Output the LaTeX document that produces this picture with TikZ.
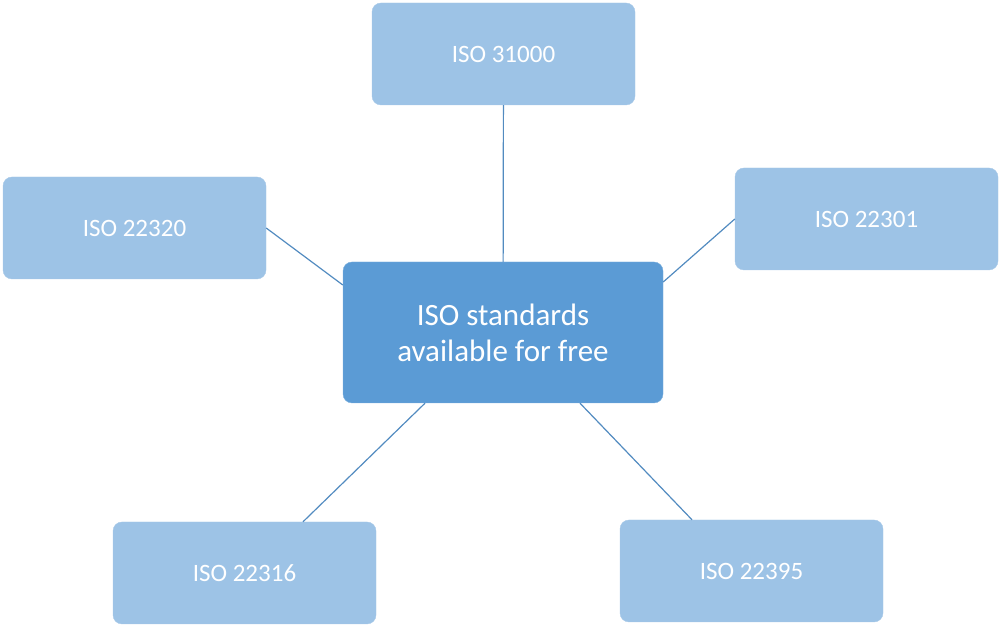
\documentclass[tikz,border=0pt]{standalone}
\usepackage{fontspec}
\setmainfont{Carlito}
\usetikzlibrary{positioning}
\definecolor{hubblue}{HTML}{5B9BD5}
\definecolor{leafblue}{HTML}{9DC3E6}
\tikzset{
  hub/.style = {rectangle, rounded corners=9pt, fill=hubblue, draw=hubblue!80!white,
    text=white, align=center, font=\fontsize{31}{36}\selectfont,
    minimum width=320pt, minimum height=141pt},
  leaf/.style = {rectangle, rounded corners=9pt, fill=leafblue, draw=leafblue!90!white,
    text=white, font=\fontsize{25}{30}\selectfont,
    minimum width=263pt, minimum height=102pt},
  link/.style = {draw=hubblue!90!black, line width=1.2pt}
}
\begin{document}
\begin{tikzpicture}[x=1pt,y=1pt]
    \useasboundingbox (0,0) rectangle (1000,628);
    \node [hub](H) at (503,295.5) {ISO standards\\available for free};
    \node [leaf](T) at (503.5,574) {ISO 31000};
    \node [leaf](L) at (134.5,400) {ISO 22320};
    \node [leaf](R) at (866.5,409) {ISO 22301};
    \node [leaf](BL) at (244.5,55) {ISO 22316};
    \node [leaf](BR) at (751.5,57) {ISO 22395};
    \draw [link] (T) -- (H);
    \draw [link] (L.east) -- (H.west |- 0,343);
    \draw [link] (R.west) -- (H.east |- 0,346);
    \draw [link] (BL.north -| 303,0) -- (H.south -| 425,0);
    \draw [link] (BR.north -| 692,0) -- (H.south -| 580,0);
\end{tikzpicture}
\end{document}
